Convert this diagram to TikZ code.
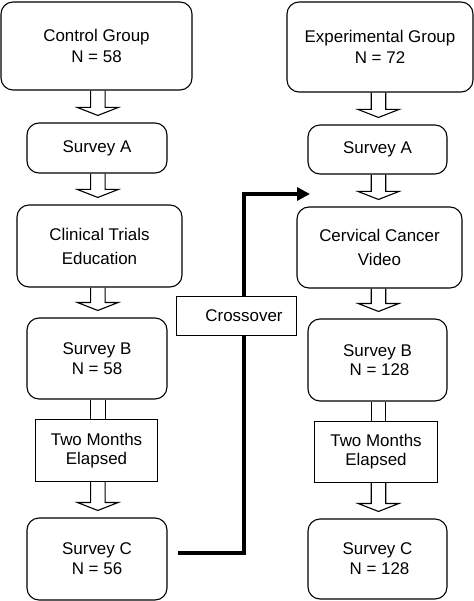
\documentclass[tikz,border=0pt]{standalone}
\usepackage{fontspec}
\setmainfont{Liberation Sans}
\usetikzlibrary{arrows.meta,calc}
\begin{document}
\begin{tikzpicture}[x=1bp,y=-1bp,
  every node/.style={font=\fontsize{17}{20}\selectfont, align=center, text=black},
  rbox/.style={draw, line width=1.1bp, rounded corners=12bp, inner sep=0pt},
  sbox/.style={draw, line width=1bp, inner sep=0pt},
  blkarrow/.style={draw, line width=1.1bp, line join=miter},
  thick arrow/.style={draw, line width=4bp, -{Triangle[length=13bp,width=13bp]}},
]
\useasboundingbox (0,0) rectangle (474,601);
% column axes
\coordinate (colL) at (97.8,0);
\coordinate (colR) at (378.5,0);
% left column
\node[rbox, minimum width=191bp, minimum height=88bp, font=\fontsize{17}{21.5}\selectfont] (lG) at (96.5,46) {Control Group\\N = 58};
\node[rbox, minimum width=140bp, minimum height=50bp] (lA) at (97,148) {Survey A};
\node[rbox, minimum width=165bp, minimum height=82bp, font=\fontsize{17}{24}\selectfont] (lE) at (99.5,246) {Clinical Trials\\Education};
\node[rbox, minimum width=140bp, minimum height=81bp, font=\fontsize{17}{19.5}\selectfont] (lB) at (97,358.5) {Survey B\\N = 58};
\node[sbox, minimum width=122bp, minimum height=62bp, font=\fontsize{17}{19}\selectfont] (lT) at (96.5,450.5) {Two Months\\Elapsed};
\node[rbox, minimum width=140bp, minimum height=82bp, font=\fontsize{17}{20}\selectfont] (lC) at (97,559) {Survey C\\N = 56};
% right column
\node[rbox, minimum width=186bp, minimum height=90bp, font=\fontsize{17}{20.5}\selectfont] (rG) at (380,47) {Experimental Group\\N = 72};
\node[rbox, minimum width=139bp, minimum height=49bp] (rA) at (377.5,149.5) {Survey A};
\node[rbox, minimum width=165bp, minimum height=81bp, font=\fontsize{17}{24}\selectfont] (rV) at (379.5,247.5) {Cervical Cancer\\Video};
\node[rbox, minimum width=139bp, minimum height=82bp, font=\fontsize{17}{19.5}\selectfont] (rB) at (377.5,360) {Survey B\\\hspace{4bp}N = 128};
\node[sbox, minimum width=123bp, minimum height=61bp, font=\fontsize{17}{19}\selectfont] (rT) at (376,452) {Two Months\\Elapsed};
\node[rbox, minimum width=139bp, minimum height=80bp, font=\fontsize{17}{20}\selectfont] (rC) at (377.5,559) {Survey C\\\hspace{4bp}N = 128};
% block arrows
\newcommand{\blk}[3]{%
  \draw[blkarrow] let \p1=(#1.south), \p2=(#2.north), \p3=(#3) in
   (\x3-7.25bp,\y1) -- (\x3-7.25bp,\y2+15bp) -- (\x3-20.5bp,\y2+15bp) -- (\x3,\y2+7bp)
   -- (\x3+20.5bp,\y2+15bp) -- (\x3+7.25bp,\y2+15bp) -- (\x3+7.25bp,\y1);}
\newcommand{\shaft}[3]{%
  \draw[blkarrow] let \p1=(#1.south), \p2=(#2.north), \p3=(#3) in
   (\x3-7.25bp,\y1) -- (\x3-7.25bp,\y2) (\x3+7.25bp,\y1) -- (\x3+7.25bp,\y2);}
\blk{lG}{lA}{colL}
\blk{lA}{lE}{colL}
\blk{lE}{lB}{colL}
\shaft{lB}{lT}{colL}
\blk{lT}{lC}{colL}
\blk{rG}{rA}{colR}
\blk{rA}{rV}{colR}
\blk{rV}{rB}{colR}
\shaft{rB}{rT}{colR}
\blk{rT}{rC}{colR}
% crossover
\coordinate (xin) at (310,194);
\coordinate (xcol) at (244,0);
\draw[thick arrow, shorten <=10bp] (lC.east |- 0,553) -| (xcol |- xin) -- (xin);
\node[sbox, fill=white, minimum width=120bp, minimum height=39bp] (cross) at (236.5,316) {\hspace{15bp}Crossover};
\end{tikzpicture}
\end{document}
